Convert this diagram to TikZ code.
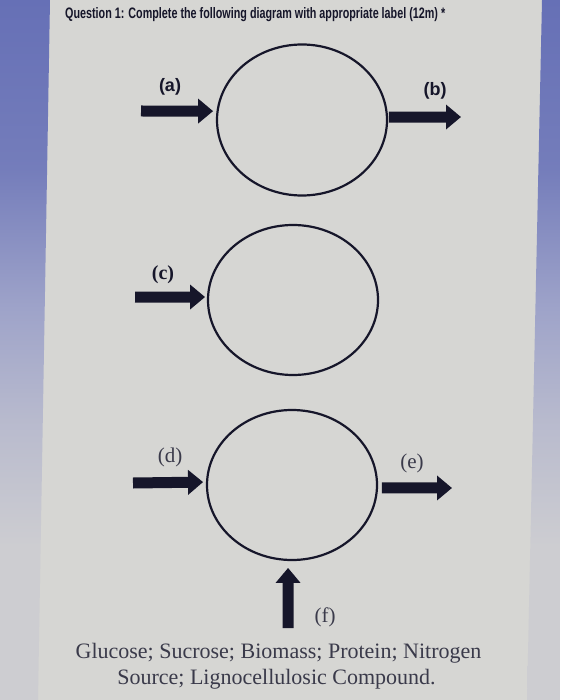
\documentclass[tikz,border=0pt]{standalone}
\usepackage{graphicx}
\usepackage{fontspec}
\setmainfont{Liberation Serif}
\newfontfamily\titlefont{Liberation Sans}
\usetikzlibrary{shapes.geometric,arrows.meta}
\definecolor{panel}{HTML}{D6D6D3}
\definecolor{stripblue}{HTML}{6670B6}
\definecolor{stripmid}{HTML}{9EA3C9}
\definecolor{stripfade}{HTML}{CDCDD1}
\definecolor{ink}{HTML}{16162A}
\definecolor{textgray}{HTML}{3A3A4A}
\pgfdeclareverticalshading{stripshade}{100bp}{color(0bp)=(stripfade); color(25bp)=(stripfade); color(36bp)=(stripfade); color(45bp)=(stripmid!45!stripfade); color(53bp)=(stripmid); color(63bp)=(stripblue!75!stripmid); color(75bp)=(stripblue); color(100bp)=(stripblue)}
\tikzset{
  vessel/.style={draw=ink, line width=2.2pt, ellipse, minimum width=170pt, minimum height=151pt, inner sep=0pt, outer sep=0pt},
  flow/.style={draw=ink, line width=11pt, -{Triangle[length=15pt,width=24pt]}},
  boldsans/.style={font=\titlefont\fontsize{18}{20}\selectfont\bfseries, text=ink, inner sep=0pt},
  boldserif/.style={font=\fontsize{20}{22}\selectfont\bfseries, text=ink, inner sep=0pt},
  lab/.style={font=\fontsize{21}{23}\selectfont, text=textgray, inner sep=0pt},
  foot/.style={font=\fontsize{22}{24}\selectfont, text=textgray, inner sep=0pt, anchor=base},
}
\begin{document}
\begin{tikzpicture}[x=1pt,y=-1pt]
\useasboundingbox (0,0) rectangle (560,700);
\fill[panel] (0,0) rectangle (560,700);
\shade[shading=stripshade] (0,0) -- (50,0) -- (38,700) -- (0,700) -- cycle;
\shade[shading=stripshade] (542,0) -- (560,0) -- (560,700) -- (527,700) -- cycle;

\node (title) [anchor=base west, text=ink, inner sep=0pt] at (65,19)
  {\resizebox{380pt}{11pt}{\titlefont\bfseries Question 1: Complete the following diagram with appropriate label (12m) *}};

\node (c1) [vessel] at (302,120) {};
\node (c2) [vessel, minimum height=150pt] at (293,300) {};
\node (c3) [vessel, minimum height=150pt] at (292,485) {};

\coordinate (a0) at (141,111);
\coordinate (b1) at (461,117);
\coordinate (c0) at (135,297);
\coordinate (d0) at (133,483);
\coordinate (e1) at (452,488);
\coordinate (f0) at (288,628);

\draw[flow, shorten >=4.5pt] (a0) -- (c1.174);
\draw[flow, shorten <=2pt] (c1.2) -- (b1);
\draw[flow, shorten >=3pt] (c0) -- (c2.178);
\draw[flow, shorten >=4pt] (d0) -- (c3.178);
\draw[flow, shorten <=5pt] (c3.-2) -- (e1);
\draw[flow, shorten >=8pt] (f0) -- (c3.267);

\node (la) [boldsans] at (170,87) {(a)};
\node (lb) [boldsans] at (435,91) {(b)};
\node (lc) [boldserif] at (163,275) {(c)};
\node (ld) [lab] at (170,457) {(d)};
\node (le) [lab] at (412,463) {(e)};
\node (lf) [lab] at (325,617) {(f)};

\node (foot1) [foot] at (278.5,658) {Glucose; Sucrose; Biomass; Protein; Nitrogen};
\node (foot2) [foot] at (276.5,684) {Source; Lignocellulosic Compound.};
\end{tikzpicture}
\end{document}
